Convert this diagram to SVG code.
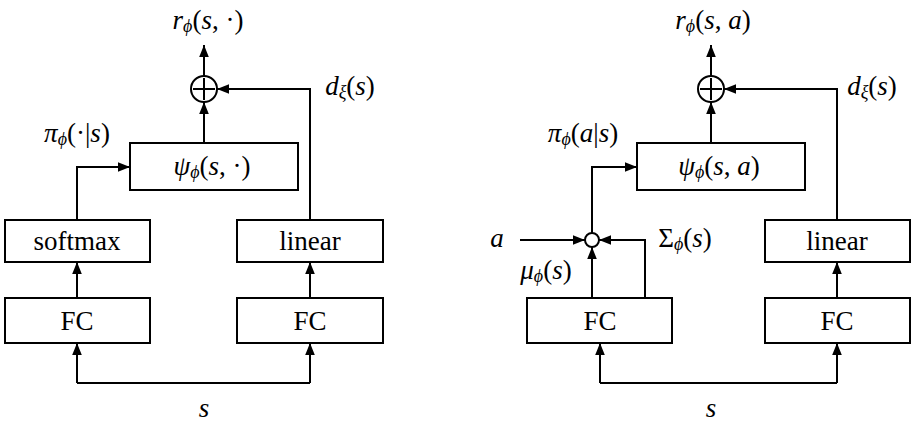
<svg xmlns="http://www.w3.org/2000/svg" width="915" height="425" viewBox="0 0 915 425">
<defs><marker id="ah" viewBox="0 0 10 10" refX="10" refY="5" markerWidth="12" markerHeight="12" markerUnits="userSpaceOnUse" orient="auto"><path d="M0,1 L10,5 L0,9 Z" fill="#000"/></marker></defs>
<style>
.b{fill:#fff;stroke:#000;stroke-width:2}
.l{fill:none;stroke:#000;stroke-width:2;marker-end:url(#ah)}
.n{fill:none;stroke:#000;stroke-width:2}
text{font-family:"Liberation Serif","Times New Roman","DejaVu Serif",serif;font-size:27px;text-anchor:middle;dominant-baseline:central}
.m{font-style:italic}
</style>
<rect width="915" height="425" fill="#fff"/>
<g id="connectors">
<path class="n" d="M77,383 H310"/>
<path class="l" d="M77,383 V343"/><path class="l" d="M310,383 V343"/>
<path class="l" d="M77,298 V262"/><path class="l" d="M310,298 V262"/>
<path class="l" d="M77,220 V167 H130"/>
<path class="l" d="M310,220 V89 H217"/>
<path class="l" d="M204,143 V102"/>
<path class="l" d="M204,76 V45"/>
<path class="n" d="M600,383 H837"/>
<path class="l" d="M600,383 V343"/><path class="l" d="M837,383 V343"/>
<path class="l" d="M837,298 V262"/>
<path class="l" d="M837,220 V89 H724"/>
<path class="l" d="M711,143 V102"/>
<path class="l" d="M711,76 V45"/>
<path class="l" d="M520,240 H585"/>
<path class="l" d="M592,298 V247"/>
<path class="l" d="M645,298 V240 H599"/>
<path class="l" d="M592,233 V167 H637"/>
</g>
<g id="fc1"><rect class="b" x="5" y="298" width="145" height="45"/><text x="77" y="321">FC</text></g>
<g id="softmax"><rect class="b" x="5" y="220" width="145" height="42"/><text x="77" y="241">softmax</text></g>
<g id="linear1"><rect class="b" x="237" y="220" width="146" height="42"/><text x="310" y="241">linear</text></g>
<g id="fc2"><rect class="b" x="237" y="298" width="146" height="45"/><text x="310" y="321">FC</text></g>
<g id="psi1"><rect class="b" x="130" y="143" width="168" height="47"/><text x="212" y="166" class="m">ψ<tspan font-size="18" dy="6">ϕ</tspan><tspan dy="-6" font-style="normal">(</tspan>s<tspan font-style="normal">, ·)</tspan></text></g>
<g id="plus1"><circle class="b" cx="204" cy="89" r="13"/><path class="n" d="M193,89 H215 M204,78 V100"/></g>
<g id="fc3"><rect class="b" x="527" y="298" width="145" height="45"/><text x="600" y="321">FC</text></g>
<g id="linear2"><rect class="b" x="765" y="220" width="145" height="42"/><text x="837" y="241">linear</text></g>
<g id="fc4"><rect class="b" x="765" y="298" width="145" height="45"/><text x="837" y="321">FC</text></g>
<g id="psi2"><rect class="b" x="637" y="143" width="168" height="47"/><text x="719" y="166" class="m">ψ<tspan font-size="18" dy="6">ϕ</tspan><tspan dy="-6" font-style="normal">(</tspan>s<tspan font-style="normal">, </tspan>a<tspan font-style="normal">)</tspan></text></g>
<g id="plus2"><circle class="b" cx="711" cy="89" r="13"/><path class="n" d="M700,89 H722 M711,78 V100"/></g>
<g id="sample"><circle class="b" cx="592" cy="240" r="7"/></g>
<g id="labels">
<text x="208" y="20" class="m">r<tspan font-size="18" dy="6">ϕ</tspan><tspan dy="-6" font-style="normal">(</tspan>s<tspan font-style="normal">, ·)</tspan></text>
<text x="713" y="20" class="m">r<tspan font-size="18" dy="6">ϕ</tspan><tspan dy="-6" font-style="normal">(</tspan>s<tspan font-style="normal">, </tspan>a<tspan font-style="normal">)</tspan></text>
<text x="77" y="133" class="m">π<tspan font-size="18" dy="6">ϕ</tspan><tspan dy="-6" font-style="normal">(·|</tspan>s<tspan font-style="normal">)</tspan></text>
<text x="583" y="133" class="m">π<tspan font-size="18" dy="6">ϕ</tspan><tspan dy="-6" font-style="normal">(</tspan>a<tspan font-style="normal">|</tspan>s<tspan font-style="normal">)</tspan></text>
<text x="350" y="86" class="m">d<tspan font-size="18" dy="6">ξ</tspan><tspan dy="-6" font-style="normal">(</tspan>s<tspan font-style="normal">)</tspan></text>
<text x="872" y="86" class="m">d<tspan font-size="18" dy="6">ξ</tspan><tspan dy="-6" font-style="normal">(</tspan>s<tspan font-style="normal">)</tspan></text>
<text x="204" y="408" class="m">s</text>
<text x="711" y="408" class="m">s</text>
<text x="497" y="238" class="m">a</text>
<text x="546" y="270" class="m">μ<tspan font-size="18" dy="6">ϕ</tspan><tspan dy="-6" font-style="normal">(</tspan>s<tspan font-style="normal">)</tspan></text>
<text x="685" y="238"><tspan>Σ</tspan><tspan font-size="18" dy="6" font-style="italic">ϕ</tspan><tspan dy="-6">(</tspan><tspan font-style="italic">s</tspan>)</text>
</g>
</svg>
